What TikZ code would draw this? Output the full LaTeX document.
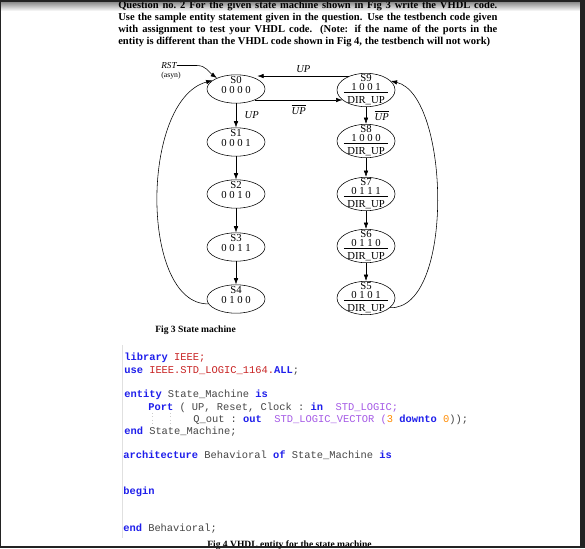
\documentclass[tikz,border=0pt]{standalone}
\usepackage{fontspec}
\setmainfont{Liberation Serif}
\setmonofont{Liberation Mono}
\usetikzlibrary{shapes.geometric,arrows.meta}

\definecolor{kwblue}{RGB}{30,30,235}
\definecolor{libred}{RGB}{200,35,35}
\definecolor{typurple}{RGB}{165,90,230}
\definecolor{numorange}{RGB}{255,140,0}
\definecolor{plaingray}{RGB}{70,70,70}
\definecolor{screenframe}{RGB}{35,35,35}

\newcommand{\kw}[1]{\textcolor{kwblue}{\bfseries #1}}
\newcommand{\lib}[1]{\textcolor{libred}{#1}}
\newcommand{\ty}[1]{\textcolor{typurple}{#1}}
\newcommand{\nm}[1]{\textcolor{numorange}{#1}}

\tikzset{
  lstate/.style={ellipse, draw, minimum width=1.45cm, minimum height=0.71cm, inner sep=0pt},
  rstate/.style={lstate, minimum height=0.835cm},
  stxt/.style={inner sep=0pt, font=\fontsize{7.6}{7.6}\selectfont},
  lbl/.style={inner sep=1pt, font=\fontsize{7.5}{8}\selectfont\itshape},
  hdr/.style={anchor=base west, inner sep=0pt, font=\fontsize{7.5}{8.5}\selectfont\bfseries},
  codeline/.style={anchor=base west, inner sep=0pt, text=plaingray, font=\fontsize{7.4}{8}\selectfont\ttfamily},
  figcap/.style={anchor=base west, inner sep=0pt, font=\fontsize{6.8}{7}\selectfont\bfseries},
}

\begin{document}
\begin{tikzpicture}[x=0.025cm, y=-0.025cm, >={Latex[length=4.5pt,width=3.2pt]}]
\useasboundingbox (0,0) rectangle (585,548);
\fill[white] (0,0) rectangle (585,548);
\shade[top color=black!45, bottom color=white] (0,2) rectangle (581,11);

% question text
\node[hdr] (q1) at (118,8.3) {\makebox[9.475cm][s]{Question no.\ 2 For the given state machine shown in Fig 3 write the VHDL code.}};
\node[hdr] (q2) at (118,20.3) {\makebox[9.475cm][s]{Use the sample entity statement given in the question. Use the testbench code given}};
\node[hdr] (q3) at (118,32.3) {\makebox[9.475cm][s]{with assignment to test your VHDL code. (Note: if the name of the ports in the}};
\node[hdr] (q4) at (118,44.3) {entity is different than the VHDL code shown in Fig 4, the testbench will not work)};

% states, left column
\foreach \n/\y/\bits in {0/89/0 0 0 0, 1/142/0 0 0 1, 2/194/0 0 1 0, 3/247/0 0 1 1, 4/299/0 1 0 0} {
  \node[lstate] (s\n) at (236,\y) {};
  \node[stxt] at ([yshift=6.3pt]s\n.center) {S\n};
  \node[stxt] at ([yshift=-0.6pt]s\n.center) {\bits};
}
% states, right column
\foreach \n/\y/\bits in {9/90/1 0 0 1, 8/141/1 0 0 0, 7/194/0 1 1 1, 6/246/0 1 1 0, 5/298/0 1 0 1} {
  \node[rstate] (s\n) at (366,\y) {};
  \node[stxt] at ([yshift=8.6pt]s\n.center) {S\n};
  \node[stxt] at ([yshift=2.2pt]s\n.center) {\bits};
  \draw ([xshift=-0.55cm,yshift=-1.7pt]s\n.center) -- ([xshift=0.55cm,yshift=-1.7pt]s\n.center);
  \node[stxt] at ([yshift=-7.4pt]s\n.center) {DIR\_UP};
}

\draw[->] (s0) -- node[lbl, right=5pt] {UP} (s1);
\foreach \a/\b in {1/2, 2/3, 3/4} \draw[->] (s\a) -- (s\b);
\draw[->] (s9) -- node[lbl, right=5pt] {\(\overline{\mbox{\itshape UP}}\)} (s8);
\foreach \a/\b in {8/7, 7/6, 6/5} \draw[->] (s\a) -- (s\b);

\draw[->] (s9.140) -- node[lbl, above=1pt] {UP} (s9.140 -| s0.25);
\draw[->] (s0.-30) -- node[lbl, below=2pt] {\(\overline{\mbox{\itshape UP}}\)} (s0.-30 -| s9.-157);

% reset
\node[inner sep=0pt, font=\fontsize{6.5}{7}\selectfont\itshape] (rst) at (169,65.5) {RST};
\node[inner sep=0pt, font=\fontsize{5.5}{6}\selectfont] (asyn) at (171,76) {(asyn)};
\draw[->] (rst.east) -- ++(20,0) to[out=0, in=145] (s0.150);

% return loops
\draw[->] (s4.190) .. controls (140,305) and (140,100) .. (s0.160);
\draw[->] (s5.-22) .. controls (455,310) and (450,95) .. (s9.20);

\node[figcap] (fig3) at (155,332) {Fig 3 State machine};

% vhdl listing
\draw[black!12] (122,345) -- (122,538);
\draw[black!20, dotted] (152,413) -- (152,426);
\draw[black!20, dotted] (170,413) -- (170,426);
\node[codeline] (c1) at (124,360.7) {\kw{library}~\textcolor{libred}{IEEE;}};
\node[codeline] (c2) at (124,373) {\kw{use} \lib{IEEE.STD\_LOGIC\_1164.}\kw{ALL};};
\node[codeline] (c3) at (124,397) {\kw{entity} State\_Machine \kw{is}};
\node[codeline] (c4) at (148,410) {\kw{Port} ( UP, Reset, Clock : \kw{in}~~\ty{STD\_LOGIC;}};
\node[codeline] (c5) at (193,422) {Q\_out : \kw{out}~~\ty{STD\_LOGIC\_VECTOR (}\nm{3} \kw{downto} \nm{0}));};
\node[codeline] (c6) at (124,434) {\kw{end} State\_Machine;};
\node[codeline] (c7) at (123,458) {\kw{architecture} Behavioral \kw{of} State\_Machine \kw{is}};
\node[codeline] (c8) at (123,494) {\kw{begin}};
\node[codeline] (c9) at (123,531) {\kw{end} Behavioral;};
\node[figcap] (fig4) at (207,547) {Fig 4 VHDL entity for the state machine};

% screen frame
\fill[screenframe] (0,0) rectangle (585,2);
\fill[screenframe] (0,0) rectangle (1,548);
\fill[screenframe] (580,0) rectangle (585,548);
\fill[screenframe] (0,546) rectangle (585,548);
\end{tikzpicture}
\end{document}
